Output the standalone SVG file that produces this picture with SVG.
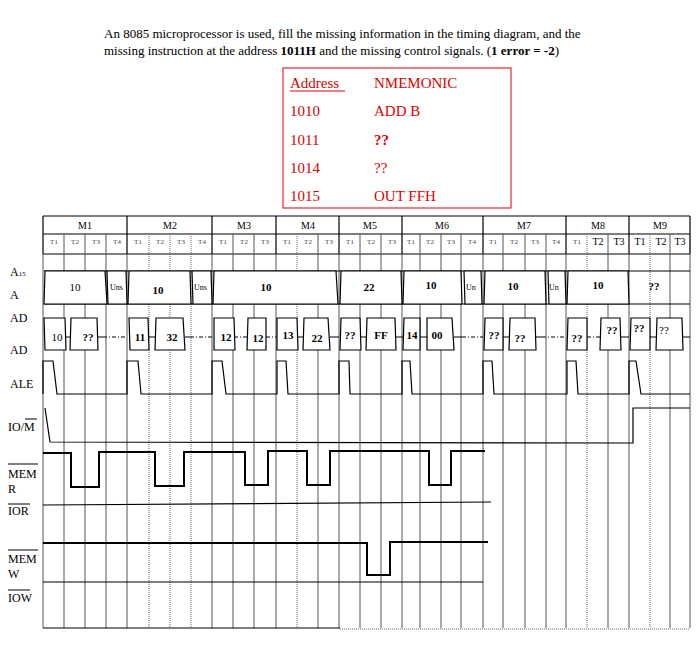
<svg xmlns="http://www.w3.org/2000/svg" width="697" height="662" viewBox="0 0 697 662">
<style>
text{font-family:"Liberation Serif",serif;fill:#000}
.t{font-size:13px}
.red{fill:#e00000;font-size:15px}
.m{font-size:10px;text-anchor:middle}
.tl{font-size:7px;text-anchor:middle;fill:#444}
.lb{font-size:12px}
.v{font-size:11px;text-anchor:middle}
.b{font-weight:bold}
.g{stroke:#555;stroke-width:1;fill:none}
.d{stroke:#666;stroke-width:1;stroke-dasharray:1,1;fill:none}
.s{stroke:#000;stroke-width:1.2;fill:none}
.w{stroke:#000;stroke-width:2;fill:none}
.bx{stroke:#000;stroke-width:1.2;fill:#fff}
.dd{stroke:#000;stroke-width:1;stroke-dasharray:4,2,1,2;fill:none}
</style>
<rect width="697" height="662" fill="#fff"/>
<g id="title">
<text class="t" x="104" y="38">An 8085 microprocessor is used, fill the missing information in the timing diagram, and the</text>
<text class="t" x="104" y="55">missing instruction at the address <tspan class="b">1011H</tspan> and the missing control signals. (<tspan class="b">1 error = -2</tspan>)</text>
</g>
<g id="table">
<rect x="283" y="68" width="228" height="140" fill="none" stroke="#e00000"/>
<text class="red" x="290" y="88">Address</text>
<line x1="290" y1="91" x2="345" y2="91" stroke="#e00000"/>
<text class="red" x="374" y="88">NMEMONIC</text>
<text class="red" x="290" y="116">1010</text><text class="red" x="374" y="116">ADD B</text>
<text class="red" x="290" y="145">1011</text><text class="red" x="374" y="145" font-weight="bold">??</text>
<text class="red" x="290" y="173">1014</text><text class="red" x="374" y="173">??</text>
<text class="red" x="290" y="201">1015</text><text class="red" x="374" y="201">OUT  FFH</text>
</g>
<g id="header">
<path class="s" d="M43 216H690M43 234H690M43 254H690M43 216V254M127 216V254M212 216V254M276 216V254M339 216V254M402 216V254M483 216V254M566 216V254M629 216V254M690 216V254"/>
<text class="m" x="85" y="229">M1</text><text class="m" x="170" y="229">M2</text><text class="m" x="244" y="229">M3</text><text class="m" x="308" y="229">M4</text><text class="m" x="370" y="229">M5</text><text class="m" x="442" y="229">M6</text><text class="m" x="524" y="229">M7</text><text class="m" x="598" y="229">M8</text><text class="m" x="660" y="229">M9</text>
<text class="tl" x="54" y="244">T1</text><text class="tl" x="75" y="244">T2</text><text class="tl" x="96" y="244">T3</text><text class="tl" x="117" y="244">T4</text>
<text class="tl" x="138" y="244">T1</text><text class="tl" x="160" y="244">T2</text><text class="tl" x="181" y="244">T3</text><text class="tl" x="202" y="244">T4</text>
<text class="tl" x="223" y="244">T1</text><text class="tl" x="244" y="244">T2</text><text class="tl" x="265" y="244">T3</text>
<text class="tl" x="287" y="244">T1</text><text class="tl" x="308" y="244">T2</text><text class="tl" x="329" y="244">T3</text>
<text class="tl" x="350" y="244">T1</text><text class="tl" x="371" y="244">T2</text><text class="tl" x="392" y="244">T3</text>
<text class="tl" x="411" y="244">T1</text><text class="tl" x="430" y="244">T2</text><text class="tl" x="451" y="244">T3</text><text class="tl" x="472" y="244">T4</text>
<text class="tl" x="493" y="244">T1</text><text class="tl" x="514" y="244">T2</text><text class="tl" x="535" y="244">T3</text><text class="tl" x="556" y="244">T4</text>
<text class="tl" x="577" y="244">T1</text>
<text class="m" x="598" y="245">T2</text><text class="m" x="619" y="245">T3</text><text class="m" x="640" y="245">T1</text><text class="m" x="661" y="245">T2</text><text class="m" x="680" y="245">T3</text>
</g>
<g id="grid">
<path class="g" d="M43 254V628M64 234V628M85 234V628M106 234V628M127 254V628M212 254V628M233 234V628M254 234V628M276 254V628M318 234V628M339 254V628M360 234V628M381 234V628M402 254V628M420 234V628M441 234V628M461 234V628M483 254V628M503 234V628M525 234V628M546 234V628M566 254V628M608 234V628M629 254V628M670 234V628M690 234V628"/>
<path class="d" d="M149 234V628M170 234V628M191 234V628M297 234V628M587 234V628M650 234V628"/>
<path class="s" d="M43 628H340"/>
<path class="d" d="M340 629H690"/>
</g>
<g id="labels">
<text class="lb" x="10" y="276">A<tspan font-size="7">15</tspan></text>
<text class="lb" x="10" y="299">A</text>
<text class="lb" x="10" y="322">AD</text>
<text class="lb" x="10" y="354">AD</text>
<text class="lb" x="10" y="388">ALE</text>
<text class="lb" x="8" y="431">IO/M</text><line x1="25" y1="419" x2="37" y2="419" stroke="#000"/>
<text class="lb" x="8" y="478">MEM</text><text class="lb" x="8" y="493">R</text><line x1="8" y1="464" x2="38" y2="464" stroke="#000"/>
<text class="lb" x="8" y="515">IOR</text><line x1="8" y1="504" x2="30" y2="504" stroke="#000"/>
<text class="lb" x="8" y="563">MEM</text><text class="lb" x="8" y="578">W</text><line x1="8" y1="550" x2="38" y2="550" stroke="#000"/>
<text class="lb" x="8" y="602">IOW</text><line x1="8" y1="590" x2="30" y2="590" stroke="#000"/>
</g>
<g id="addr">
<path class="s" d="M44 271H690M44 304H690"/>
<polygon class="bx" points="45,271 105,271 107,304 44,304"/><text class="v" x="75" y="291">10</text>
<polygon class="bx" points="107,271 126,271 127,304 108,304"/><text x="110" y="290" font-size="8" fill="#000">Uns</text>
<polygon class="bx" points="129,271 190,271 191,304 128,304"/><text class="v b" x="158" y="294">10</text>
<polygon class="bx" points="192,271 211,271 212,304 193,304"/><text x="194" y="290" font-size="8">Uns</text>
<polygon class="bx" points="214,271 336,271 338,304 213,304"/><text class="v b" x="266" y="291">10</text>
<polygon class="bx" points="341,271 401,271 402,304 340,304"/><text class="v b" x="369" y="291">22</text>
<polygon class="bx" points="404,271 461,271 462,304 403,304"/><text class="v b" x="431" y="289">10</text>
<polygon class="bx" points="464,271 481,271 482,304 465,304"/><text x="466" y="290" font-size="8">Un</text>
<polygon class="bx" points="485,271 545,271 546,304 484,304"/><text class="v b" x="513" y="290">10</text>
<polygon class="bx" points="548,271 565,271 566,304 549,304"/><text x="549" y="290" font-size="8">Un</text>
<polygon class="bx" points="568,271 628,271 629,304 567,304"/><text class="v b" x="598" y="289">10</text>
<text class="v b" x="654" y="290">??</text>
</g>
<g id="ad">
<path class="s" d="M65 337H70M98 337H103M148 337H155M185 337H190M297 337H303M330 337H339M360 337H366M396 337H403M420 337H427M454 337H462M503 337H509M536 337H542M621 337H629M650 337H656M683 337H690"/>
<path class="dd" d="M103 337H127M190 337H212M234 337H247M266 337H276M462 337H483M542 337H566M587 337H600"/>
<polygon class="bx" points="44,318 65,318 66,350 45,350"/><text class="v" x="57" y="341">10</text>
<polygon class="bx" points="71,318 97,318 98,350 70,350"/><text class="v b" x="88" y="341">??</text>
<polygon class="bx" points="129,318 148,318 149,350 130,350"/><text class="v b" x="140" y="341">11</text>
<polygon class="bx" points="156,318 183,318 185,350 155,350"/><text class="v b" x="172" y="341">32</text>
<polygon class="bx" points="214,318 234,318 235,350 214,350"/><text class="v b" x="226" y="341">12</text>
<polygon class="bx" points="248,318 266,318 266,350 247,350"/><text class="v b" x="258" y="342">12</text>
<polygon class="bx" points="277,318 297,318 298,350 277,350"/><text class="v b" x="288" y="339">13</text>
<polygon class="bx" points="304,318 328,318 330,350 303,350"/><text class="v b" x="317" y="342">22</text>
<polygon class="bx" points="341,318 360,318 361,350 340,350"/><text class="v b" x="350" y="339">??</text>
<polygon class="bx" points="367,318 395,318 396,350 366,350"/><text class="v b" x="381" y="339">FF</text>
<polygon class="bx" points="404,318 420,318 420,350 403,350"/><text class="v b" x="412" y="339">14</text>
<polygon class="bx" points="427,318 452,318 454,350 427,350"/><text class="v b" x="437" y="339">00</text>
<polygon class="bx" points="485,318 503,318 503,350 484,350"/><text class="v b" x="494" y="339">??</text>
<polygon class="bx" points="510,318 535,318 536,350 509,350"/><text class="v b" x="520" y="342">??</text>
<polygon class="bx" points="568,318 587,318 587,350 567,350"/><text class="v b" x="577" y="342">??</text>
<polygon class="bx" points="601,318 620,318 621,350 600,350"/><text class="v b" x="612" y="334">??</text>
<polygon class="bx" points="631,318 650,318 650,350 630,350"/><text class="v b" x="639" y="332">??</text>
<polygon class="bx" points="657,318 682,318 683,350 656,350"/><text class="v" x="664" y="334">??</text>
</g>
<g id="ale">
<path class="s" d="M43 394V361H53L57 394H127V361H138L141 394H212V361H222L226 394H277V361H286L288 394H339V361H349L350 394H402V361H410L412 394H483V361H492L494 394H567V361H576L578 394H629V361H636L641 394H690"/>
</g>
<g id="iom">
<path class="s" d="M45 408L50 442L633 443V408H690"/>
</g>
<g id="memr">
<path class="w" d="M43 453H71V487H99V452H155V486H184V452H245V485H268V451H307V485H330V451H429V485H451V451H485"/>
</g>
<g id="ior"><path class="s" d="M43 505L491 502"/></g>
<g id="memw"><path class="w" d="M43 543H367V575H390V542H488"/></g>
<g id="iow"><path class="s" d="M43 582H483"/></g>
</svg>
